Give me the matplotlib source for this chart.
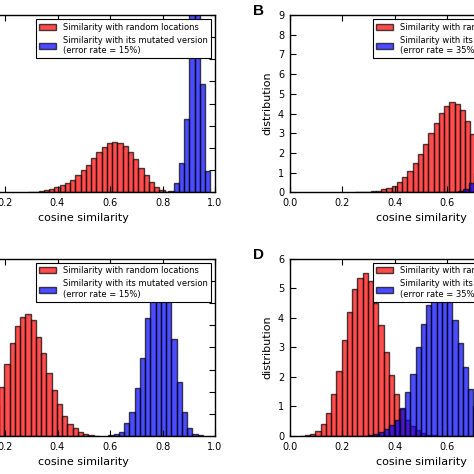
import numpy as np
import matplotlib
matplotlib.use('Agg')
import matplotlib.pyplot as plt
from matplotlib.ticker import FormatStrFormatter

# bar width of every histogram
bin_width = 0.02
x_ticks = [0.0, 0.2, 0.4, 0.6, 0.8, 1.0]

# panel A / B : similarity with random locations
red_ab_start = 0.288
red_a = [0.03, 0.06, 0.10, 0.17, 0.28, 0.45, 0.63, 0.82, 1.15, 1.55, 1.97, 2.5, 3.06, 3.6,
         4.06, 4.42, 4.57, 4.48, 4.18, 3.67, 2.98, 2.23, 1.53, 0.96, 0.51, 0.21, 0.06, 0.02]
red_b_start = 0.248
red_b = [0.01, 0.02, 0.03, 0.05, 0.09, 0.15, 0.24, 0.34, 0.53, 0.78, 1.08, 1.49, 1.93, 2.47,
         3.02, 3.54, 4.05, 4.39, 4.58, 4.47, 4.2, 3.63, 2.98, 2.23, 1.53, 0.96, 0.51, 0.21,
         0.06, 0.02]

# mutated version, error rate 15% (A) and 35% (B)
blue_a_start = 0.802
blue_a = [0.04, 0.15, 0.8, 2.6, 6.6, 17.2, 16.9, 9.8, 1.9]
blue_b_start = 0.602
blue_b = [0.01, 0.02, 0.05, 0.17, 0.46, 1.0, 1.9, 3.0, 4.2, 5.2, 5.6, 5.3, 4.4, 3.2, 2.0,
          1.1, 0.5, 0.2, 0.06]

# panel C / D : random locations
red_cd_start = 0.038
red_c = [0.01, 0.03, 0.07, 0.18, 0.41, 0.79, 1.41, 2.21, 3.24, 4.18, 4.98, 5.36, 5.5, 5.24,
         4.48, 3.76, 2.86, 2.07, 1.43, 0.9, 0.54, 0.35, 0.2, 0.09, 0.05, 0.02]
red_d = [0.01, 0.03, 0.07, 0.18, 0.41, 0.79, 1.41, 2.21, 3.25, 4.18, 4.97, 5.34, 5.5, 5.26,
         4.49, 3.76, 2.85, 2.06, 1.43, 0.92, 0.54, 0.35, 0.2, 0.09, 0.05, 0.02]

blue_c_start = 0.594
blue_c = [0.03, 0.08, 0.17, 0.57, 1.1, 2.18, 3.53, 5.31, 6.8, 7.6, 7.7, 6.6, 4.36, 2.45,
          1.1, 0.35, 0.09, 0.03]
blue_d_start = 0.30
blue_d = [0.03, 0.08, 0.14, 0.22, 0.36, 0.55, 0.95, 1.5, 2.1, 3.0, 3.78, 4.45, 4.9, 5.05,
          5.0, 4.75, 3.91, 3.15, 2.33, 1.6, 1.0, 0.55, 0.28, 0.12, 0.05, 0.02]


def draw_panel(ax, red_start, red_vals, blue_start, blue_vals, rate, ymax, ystep):
    red_edges = red_start + bin_width * np.arange(len(red_vals))
    blue_edges = blue_start + bin_width * np.arange(len(blue_vals))
    ax.bar(red_edges, red_vals, width=bin_width, align='edge', color='r', alpha=0.7,
           edgecolor='k', linewidth=1.0, label='Similarity with random locations')
    ax.bar(blue_edges, blue_vals, width=bin_width, align='edge', color='b', alpha=0.7,
           edgecolor='k', linewidth=1.0,
           label='Similarity with its mutated version\n(error rate = %d%%)' % rate)
    ax.set_xlim(0, 1)
    ax.set_ylim(0, ymax)
    ax.set_xticks(x_ticks)
    ax.set_yticks(np.arange(0, ymax + 1, ystep))
    ax.xaxis.set_major_formatter(FormatStrFormatter('%.1f'))
    ax.tick_params(direction='in', top=True, right=True, length=4, width=0.8,
                   labelsize=7, pad=4)
    for s in ax.spines.values():
        s.set_linewidth(1.0)
    ax.set_xlabel('cosine similarity', fontsize=8)
    ax.set_ylabel('distribution', fontsize=8)
    leg = ax.legend(loc='upper right', fontsize=6, fancybox=False, framealpha=1,
                    edgecolor='k', borderaxespad=0.5)
    leg.get_frame().set_linewidth(0.8)


fig = plt.figure(figsize=(4.74, 4.74), dpi=100)
W = 474.0
aw = 262.5 / W
ah = 177.3 / W
ax_a = fig.add_axes([-47.5 / W, (W - 192.3) / W, aw, ah])
ax_b = fig.add_axes([289.7 / W, (W - 192.3) / W, aw, ah])
ax_c = fig.add_axes([-47.5 / W, (W - 436.0) / W, aw, ah])
ax_d = fig.add_axes([289.7 / W, (W - 436.0) / W, aw, ah])

draw_panel(ax_a, red_ab_start, red_a, blue_a_start, blue_a, 15, 16, 2)
draw_panel(ax_b, red_b_start, red_b, blue_b_start, blue_b, 35, 9, 1)
draw_panel(ax_c, red_cd_start, red_c, blue_c_start, blue_c, 15, 8, 1)
draw_panel(ax_d, red_cd_start, red_d, blue_d_start, blue_d, 35, 6, 1)

fig.text(258 / W, 1 - 11 / W, 'B', ha='center', va='center', fontsize=11,
         fontweight='bold', family='Liberation Sans')
fig.text(258 / W, 1 - 255 / W, 'D', ha='center', va='center', fontsize=11,
         fontweight='bold', family='Liberation Sans')

fig.savefig('out.png', dpi=100, facecolor='white')
